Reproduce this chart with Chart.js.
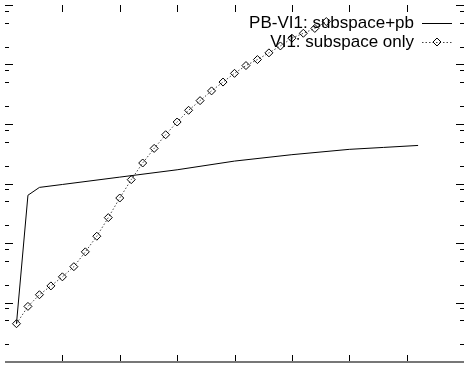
<!DOCTYPE html>
<html>
<head>
<meta charset="utf-8">
<script src="https://cdn.jsdelivr.net/npm/chart.js@4"></script>
<style>
  body { margin: 0; background: #fff; }
  canvas { display: block; }
</style>
</head>
<body>
<canvas id="chart" width="469" height="367"></canvas>
<script>
// x positions of the samples
const subspaceX = [0.2, 0.4, 0.6, 0.8, 1.0, 1.2, 1.4, 1.6, 1.8, 2.0, 2.2, 2.4, 2.6, 2.8,
                   3.0, 3.2, 3.4, 3.6, 3.8, 4.0, 4.2, 4.4, 4.6, 4.8, 5.0, 5.2, 5.4, 5.6];
const subspaceOnly = [4.4, 8.6, 13.5, 19, 27, 40, 71, 130, 267, 570, 1160, 2210, 3890, 6600,
                      10800, 17000, 24700, 36000, 50700, 71000, 96000, 121000, 157000, 205000,
                      277000, 335000, 404000, 527000];

const pbX = [0.2, 0.4, 0.6, 1.0, 2.0, 3.0, 4.0, 5.0, 6.0, 6.6, 7.2];
const subspacePb = [4.4, 635, 860, 963, 1280, 1700, 2380, 3050, 3750, 4040, 4360];

const seriesNames = ["PB-VI1: subspace+pb", "VI1: subspace only"];

// tick marks (no labels visible in the picture)
const xTicks = [1, 2, 3, 4, 5, 6, 7];
const yMajorTicks = [1, 10, 100, 1e3, 1e4, 1e5, 1e6];
const yMinorTicks = [2, 5, 8, 20, 50, 80, 200, 500, 800, 2e3, 5e3, 8e3,
                     2e4, 5e4, 8e4, 2e5, 5e5, 8e5];

const toPoints = (xs, ys) => xs.map((x, i) => ({ x: x, y: ys[i] }));

// gnuplot style: inward ticks, bottom border, legend at top right
const gnuplotFrame = {
  id: 'gnuplotFrame',
  afterDraw(chart) {
    const ctx = chart.ctx;
    const area = chart.chartArea;
    const xs = chart.scales.x;
    const ys = chart.scales.y;
    ctx.save();
    ctx.strokeStyle = '#000';
    ctx.lineWidth = 1;
    ctx.beginPath();
    xTicks.forEach((v) => {
      const px = Math.round(xs.getPixelForValue(v)) + 0.5;
      ctx.moveTo(px, area.bottom);
      ctx.lineTo(px, area.bottom - 7);
      ctx.moveTo(px, area.top);
      ctx.lineTo(px, area.top + 7);
    });
    const yTick = (v, len) => {
      const py = Math.round(ys.getPixelForValue(v)) + 0.5;
      ctx.moveTo(area.left, py);
      ctx.lineTo(area.left + len, py);
      ctx.moveTo(area.right, py);
      ctx.lineTo(area.right - len, py);
    };
    yMajorTicks.forEach((v) => yTick(v, 8));
    yMinorTicks.forEach((v) => yTick(v, 4));
    ctx.stroke();

    // bottom border
    ctx.strokeStyle = '#777';
    ctx.lineWidth = 2;
    ctx.beginPath();
    ctx.moveTo(area.left, area.bottom);
    ctx.lineTo(area.right, area.bottom);
    ctx.stroke();

    // legend
    ctx.font = '17px "Liberation Sans", Arial, sans-serif';
    ctx.textAlign = 'right';
    ctx.textBaseline = 'middle';
    ctx.fillStyle = '#000';
    const rows = [23, 42];
    chart.data.datasets.forEach((ds, i) => {
      const y = rows[i];
      ctx.fillText(ds.label, 414, y);
      ctx.strokeStyle = ds.borderColor;
      ctx.lineWidth = 1;
      ctx.setLineDash(ds.borderDash || []);
      ctx.beginPath();
      ctx.moveTo(422, y + 0.5);
      ctx.lineTo(452, y + 0.5);
      ctx.stroke();
      ctx.setLineDash([]);
      if (ds.pointRadius > 0) {
        const r = ds.pointRadius;
        ctx.strokeStyle = '#000';
        ctx.beginPath();
        ctx.moveTo(437, y - r);
        ctx.lineTo(437 + r, y);
        ctx.lineTo(437, y + r);
        ctx.lineTo(437 - r, y);
        ctx.closePath();
        ctx.stroke();
      }
    });
    ctx.restore();
  }
};

new Chart(document.getElementById('chart').getContext('2d'), {
  type: 'line',
  data: {
    datasets: [
      {
        label: seriesNames[0],
        data: toPoints(pbX, subspacePb),
        borderColor: '#000',
        borderWidth: 1,
        pointRadius: 0,
        tension: 0
      },
      {
        label: seriesNames[1],
        data: toPoints(subspaceX, subspaceOnly),
        borderColor: '#444',
        borderWidth: 1,
        borderDash: [1.5, 2],
        pointStyle: 'rectRot',
        pointRadius: 4,
        pointBorderColor: '#000',
        pointBackgroundColor: 'rgba(0,0,0,0)',
        pointBorderWidth: 1,
        tension: 0
      }
    ]
  },
  options: {
    responsive: false,
    animation: false,
    layout: { padding: { left: 0, right: 0, top: 0, bottom: 1 } },
    scales: {
      x: { type: 'linear', min: 0, max: 8, display: false },
      y: { type: 'logarithmic', min: 1, max: 1e6, display: false }
    },
    plugins: {
      legend: { display: false },
      tooltip: { enabled: false }
    }
  },
  plugins: [gnuplotFrame]
});
</script>
</body>
</html>
